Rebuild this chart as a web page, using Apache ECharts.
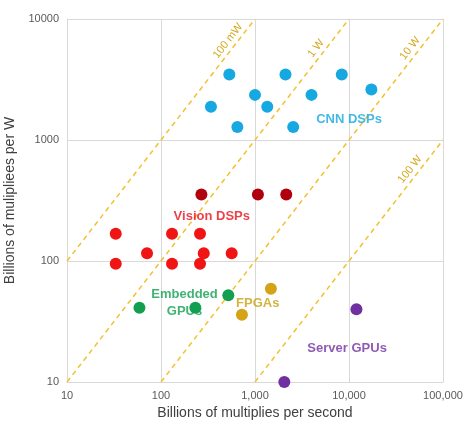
<!DOCTYPE html>
<html><head><meta charset="utf-8">
<script src="https://cdn.jsdelivr.net/npm/echarts@6/dist/echarts.min.js"></script>
<style>html,body{margin:0;padding:0;background:#fff}#c{width:474px;height:423px}</style>
</head><body><div id="c"></div>
<script>
const cnnDSPs = [[533,3480],[2110,3480],[8380,3480],[340,1880],[1000,2360],[1350,1880],[3990,2360],[17300,2620],[649,1280],[2550,1280]];
const visionDSPsDark = [[269,354],[1074,354],[2150,354]];
const visionDSPs = [[33,168],[131,168],[260,168],[71,116],[285,116],[565,116],[33,95],[131,95],[260,95]];
const embeddedGPUs = [[59,41],[232,41],[520,52]];
const fpgas = [[1476,59],[726,36]];
const serverGPUs = [[2050,10],[12000,40]];
const powerLines = [
  {name:'100 mW', pts:[[10,100],[1000,10000]], lbl:[600,6000]},
  {name:'1 W', pts:[[10,10],[10000,10000]], lbl:[5200,5200]},
  {name:'10 W', pts:[[100,10],[100000,10000]], lbl:[52000,5200]},
  {name:'100 W', pts:[[1000,10],[100000,1000]], lbl:[52000,520]}
];
const xTicks = {10:'10',100:'100',1000:'1,000',10000:'10,000',100000:'100,000'};
const yTicks = {10:'10',100:'100',1000:'1000',10000:'10000'};
const groupLabels = [
  {text:'CNN DSPs', at:[10000,1485], color:'#16A8E0'},
  {text:'Vision DSPs', at:[347,234], color:'#E8101A'},
  {text:'Embedded\nGPUs', at:[178,45], color:'#12A050'},
  {text:'FPGAs', at:[1070,45], color:'#C9A010'},
  {text:'Server GPUs', at:[9550,19], color:'#7030A0'}
];
const chart = echarts.init(document.getElementById('c'));
const gold = '#F2C12E';
const series = [];
powerLines.forEach(p => series.push({type:'line', data:p.pts, symbol:'none', silent:true,
  lineStyle:{color:gold, type:[5,4], width:1.5}, z:1}));
function sc(data,color){return {type:'scatter',data,symbolSize:12,itemStyle:{color,opacity:1},z:5};}
series.push(sc(cnnDSPs,'#16A8E0'), sc(visionDSPsDark,'#B0000E'), sc(visionDSPs,'#F01414'),
  sc(embeddedGPUs,'#12A050'), sc(fpgas,'#D4A317'), sc(serverGPUs,'#7030A0'));
series.push({type:'scatter', symbolSize:0, z:6, data:groupLabels.map(g=>({value:g.at,
  label:{show:true,position:'inside',formatter:g.text,color:g.color,fontSize:13,fontWeight:'bold',
  fontFamily:'Liberation Sans',lineHeight:17,align:'center'}}))});
const axisCommon = {type:'log', logBase:10, splitLine:{lineStyle:{color:'#D9D9D9'}},
  axisLine:{lineStyle:{color:'#D9D9D9'}}, axisTick:{show:false},
  axisLabel:{color:'#595959', fontSize:11, fontFamily:'Liberation Sans'},
  nameLocation:'middle', nameTextStyle:{color:'#404040', fontSize:14, fontFamily:'Liberation Sans'}};
chart.setOption({
  animation:false,
  grid:{left:67,right:31,top:19,bottom:41,containLabel:false,outerBoundsMode:'none'},
  xAxis:Object.assign({}, axisCommon, {min:10,max:100000,name:'Billions of multiplies per second',nameGap:22,
    axisLabel:Object.assign({},axisCommon.axisLabel,{formatter:v=>xTicks[Math.round(v)]||''})}),
  yAxis:Object.assign({}, axisCommon, {min:10,max:10000,name:'Billions of mulipliees per W',nameGap:40,
    axisLabel:Object.assign({},axisCommon.axisLabel,{formatter:v=>yTicks[Math.round(v)]||''})}),
  series
});
const graphic = powerLines.map(p => {
  const [px,py] = chart.convertToPixel({gridIndex:0}, p.lbl);
  const a = Math.atan2(120.8, 94);
  return {type:'text', x:px - Math.sin(a)*8, y:py - Math.cos(a)*8, rotation:a,
    style:{text:p.name, fill:'#D4A820', fontSize:11, fontFamily:'Liberation Sans', align:'center', verticalAlign:'middle'}};
});
chart.setOption({graphic});
</script></body></html>
